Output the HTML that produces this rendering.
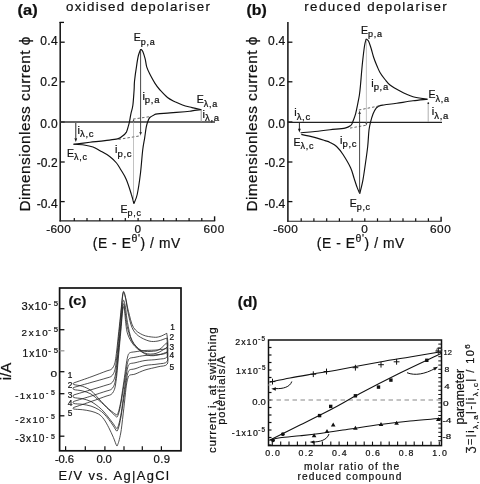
<!DOCTYPE html>
<html><head><meta charset="utf-8"><style>
html,body{margin:0;padding:0;background:#fff;}
svg{display:block;}
text{font-family:"Liberation Sans", Arial, Helvetica, sans-serif;stroke:#111;stroke-width:0.22px;}
</style></head><body>
<svg width="480" height="484" viewBox="0 0 480 484">
<rect width="480" height="484" fill="#fff"/>
<text x="17.5" y="14.6" font-size="14.50" text-anchor="start" font-weight="bold" fill="#111" textLength="20.2" lengthAdjust="spacingAndGlyphs">(a)</text>
<text x="66.0" y="11.0" font-size="13.30" text-anchor="start" font-weight="normal" fill="#111" textLength="144.0" lengthAdjust="spacing">oxidised depolariser</text>
<line x1="60.2" y1="22.0" x2="60.2" y2="221.4" stroke="#111" stroke-width="1.50" />
<line x1="59.5" y1="22.4" x2="64.0" y2="22.4" stroke="#111" stroke-width="1.30" />
<line x1="59.5" y1="220.9" x2="215.2" y2="220.9" stroke="#222" stroke-width="1.10" />
<line x1="60.2" y1="42.2" x2="64.7" y2="42.2" stroke="#111" stroke-width="1.30" />
<line x1="60.2" y1="81.8" x2="64.7" y2="81.8" stroke="#111" stroke-width="1.30" />
<line x1="60.2" y1="122.0" x2="64.7" y2="122.0" stroke="#111" stroke-width="1.30" />
<line x1="60.2" y1="162.0" x2="64.7" y2="162.0" stroke="#111" stroke-width="1.30" />
<line x1="60.2" y1="201.6" x2="64.7" y2="201.6" stroke="#111" stroke-width="1.30" />
<text x="57.6" y="45.2" font-size="12.00" text-anchor="end" font-weight="normal" fill="#111" textLength="17.3" lengthAdjust="spacing">0.4</text>
<text x="57.6" y="85.8" font-size="12.00" text-anchor="end" font-weight="normal" fill="#111" textLength="17.3" lengthAdjust="spacing">0.2</text>
<text x="57.6" y="127.9" font-size="12.00" text-anchor="end" font-weight="normal" fill="#111" textLength="17.3" lengthAdjust="spacing">0.0</text>
<text x="57.6" y="167.0" font-size="12.00" text-anchor="end" font-weight="normal" fill="#111" textLength="20.8" lengthAdjust="spacing">-0.2</text>
<text x="57.6" y="207.5" font-size="12.00" text-anchor="end" font-weight="normal" fill="#111" textLength="20.8" lengthAdjust="spacing">-0.4</text>
<line x1="74.3" y1="220.9" x2="74.3" y2="217.9" stroke="#111" stroke-width="1.20" />
<line x1="87.0" y1="220.9" x2="87.0" y2="217.9" stroke="#111" stroke-width="1.20" />
<line x1="99.8" y1="220.9" x2="99.8" y2="217.9" stroke="#111" stroke-width="1.20" />
<line x1="112.5" y1="220.9" x2="112.5" y2="217.9" stroke="#111" stroke-width="1.20" />
<line x1="125.3" y1="220.9" x2="125.3" y2="217.9" stroke="#111" stroke-width="1.20" />
<line x1="138.1" y1="220.9" x2="138.1" y2="217.9" stroke="#111" stroke-width="1.20" />
<line x1="150.8" y1="220.9" x2="150.8" y2="217.9" stroke="#111" stroke-width="1.20" />
<line x1="163.6" y1="220.9" x2="163.6" y2="217.9" stroke="#111" stroke-width="1.20" />
<line x1="176.3" y1="220.9" x2="176.3" y2="217.9" stroke="#111" stroke-width="1.20" />
<line x1="189.1" y1="220.9" x2="189.1" y2="217.9" stroke="#111" stroke-width="1.20" />
<line x1="201.8" y1="220.9" x2="201.8" y2="217.9" stroke="#111" stroke-width="1.20" />
<line x1="214.6" y1="220.9" x2="214.6" y2="216.3" stroke="#111" stroke-width="1.40" />
<text x="58.5" y="233.0" font-size="11.80" text-anchor="middle" font-weight="normal" fill="#111" textLength="24.5" lengthAdjust="spacing">-600</text>
<text x="137.8" y="233.0" font-size="11.80" text-anchor="middle" font-weight="normal" fill="#111" >0</text>
<text x="213.9" y="233.0" font-size="11.80" text-anchor="middle" font-weight="normal" fill="#111" textLength="20.8" lengthAdjust="spacing">600</text>
<text x="92.7" y="248.3" font-size="13.80" text-anchor="start" font-weight="normal" fill="#111" textLength="87.5" lengthAdjust="spacing">(E - E<tspan font-size="10.5" dy="-6.5">&#952;'</tspan><tspan dy="6.5">) / mV</tspan></text>
<text x="30.4" y="211.6" font-size="15.40" text-anchor="start" font-weight="normal" fill="#111" transform="rotate(-90 30.4 211.6)" textLength="175" lengthAdjust="spacing">Dimensionless current &#981;</text>
<text x="246.5" y="14.6" font-size="14.50" text-anchor="start" font-weight="bold" fill="#111" textLength="20.2" lengthAdjust="spacingAndGlyphs">(b)</text>
<text x="304.3" y="11.0" font-size="13.30" text-anchor="start" font-weight="normal" fill="#111" textLength="142.5" lengthAdjust="spacing">reduced depolariser</text>
<line x1="287.9" y1="22.0" x2="287.9" y2="221.8" stroke="#111" stroke-width="1.50" />
<line x1="287.2" y1="221.3" x2="441.7" y2="221.3" stroke="#222" stroke-width="1.10" />
<line x1="287.9" y1="42.2" x2="292.4" y2="42.2" stroke="#111" stroke-width="1.30" />
<line x1="287.9" y1="81.8" x2="292.4" y2="81.8" stroke="#111" stroke-width="1.30" />
<line x1="287.9" y1="122.0" x2="292.4" y2="122.0" stroke="#111" stroke-width="1.30" />
<line x1="287.9" y1="162.0" x2="292.4" y2="162.0" stroke="#111" stroke-width="1.30" />
<line x1="287.9" y1="201.6" x2="292.4" y2="201.6" stroke="#111" stroke-width="1.30" />
<text x="285.3" y="45.2" font-size="12.00" text-anchor="end" font-weight="normal" fill="#111" textLength="17.3" lengthAdjust="spacing">0.4</text>
<text x="285.3" y="85.8" font-size="12.00" text-anchor="end" font-weight="normal" fill="#111" textLength="17.3" lengthAdjust="spacing">0.2</text>
<text x="285.3" y="127.9" font-size="12.00" text-anchor="end" font-weight="normal" fill="#111" textLength="17.3" lengthAdjust="spacing">0.0</text>
<text x="285.3" y="167.0" font-size="12.00" text-anchor="end" font-weight="normal" fill="#111" textLength="20.8" lengthAdjust="spacing">-0.2</text>
<text x="285.3" y="207.5" font-size="12.00" text-anchor="end" font-weight="normal" fill="#111" textLength="20.8" lengthAdjust="spacing">-0.4</text>
<line x1="301.2" y1="221.3" x2="301.2" y2="218.3" stroke="#111" stroke-width="1.20" />
<line x1="313.9" y1="221.3" x2="313.9" y2="218.3" stroke="#111" stroke-width="1.20" />
<line x1="326.7" y1="221.3" x2="326.7" y2="218.3" stroke="#111" stroke-width="1.20" />
<line x1="339.4" y1="221.3" x2="339.4" y2="218.3" stroke="#111" stroke-width="1.20" />
<line x1="352.1" y1="221.3" x2="352.1" y2="218.3" stroke="#111" stroke-width="1.20" />
<line x1="364.8" y1="221.3" x2="364.8" y2="218.3" stroke="#111" stroke-width="1.20" />
<line x1="377.5" y1="221.3" x2="377.5" y2="218.3" stroke="#111" stroke-width="1.20" />
<line x1="390.3" y1="221.3" x2="390.3" y2="218.3" stroke="#111" stroke-width="1.20" />
<line x1="403.0" y1="221.3" x2="403.0" y2="218.3" stroke="#111" stroke-width="1.20" />
<line x1="415.7" y1="221.3" x2="415.7" y2="218.3" stroke="#111" stroke-width="1.20" />
<line x1="428.4" y1="221.3" x2="428.4" y2="218.3" stroke="#111" stroke-width="1.20" />
<line x1="441.1" y1="221.3" x2="441.1" y2="216.7" stroke="#111" stroke-width="1.40" />
<text x="285.5" y="233.0" font-size="11.80" text-anchor="middle" font-weight="normal" fill="#111" textLength="24.5" lengthAdjust="spacing">-600</text>
<text x="364.5" y="233.0" font-size="11.80" text-anchor="middle" font-weight="normal" fill="#111" >0</text>
<text x="440.4" y="233.0" font-size="11.80" text-anchor="middle" font-weight="normal" fill="#111" textLength="20.8" lengthAdjust="spacing">600</text>
<text x="316.8" y="248.3" font-size="13.80" text-anchor="start" font-weight="normal" fill="#111" textLength="87.5" lengthAdjust="spacing">(E - E<tspan font-size="10.5" dy="-6.5">&#952;'</tspan><tspan dy="6.5">) / mV</tspan></text>
<text x="256.7" y="211.6" font-size="15.40" text-anchor="start" font-weight="normal" fill="#111" transform="rotate(-90 256.7 211.6)" textLength="175" lengthAdjust="spacing">Dimensionless current &#981;</text>
<line x1="60.0" y1="122.0" x2="215.0" y2="122.0" stroke="#333" stroke-width="1.40" />
<line x1="287.8" y1="122.3" x2="442.0" y2="122.3" stroke="#222" stroke-width="1.30" />
<path d="M73.5,144.2 C76.2,143.9 84.8,142.9 90.0,142.3 C95.2,141.7 100.4,141.2 105.0,140.6 C109.6,140.0 114.6,139.6 117.5,138.9 C120.4,138.2 120.7,137.4 122.2,136.3 C123.7,135.2 125.4,133.8 126.4,132.1 C127.4,130.3 127.9,127.5 128.4,125.8 C128.9,124.1 129.1,123.8 129.5,121.7 C129.9,119.6 130.4,116.1 131.0,113.3 C131.6,110.5 132.4,108.9 132.9,105.0 C133.4,101.1 133.8,94.0 134.1,90.0 C134.4,86.0 134.1,85.3 134.5,81.3 C134.9,77.3 135.9,70.1 136.6,65.8 C137.2,61.5 137.7,58.3 138.4,55.5 C139.1,52.7 140.3,50.2 140.7,49.1" fill="none" stroke="#111" stroke-width="1.15" />
<path d="M140.7,49.1 C141.0,49.5 142.1,49.8 142.8,51.4 C143.5,53.0 144.4,56.0 145.1,58.6 C145.8,61.2 145.9,64.3 146.7,66.9 C147.5,69.5 148.4,71.3 149.8,74.1 C151.2,76.8 153.3,80.8 155.0,83.4 C156.7,86.1 157.9,87.7 160.0,90.0 C162.1,92.3 165.0,95.5 167.5,97.5 C170.0,99.5 172.5,100.5 175.0,101.8 C177.5,103.0 179.7,104.0 182.5,105.0 C185.3,106.0 188.9,106.8 192.0,107.6 C195.1,108.4 199.8,109.3 201.3,109.6" fill="none" stroke="#111" stroke-width="1.15" />
<path d="M201.3,109.6 C199.8,109.8 194.7,110.6 192.0,110.9 C189.3,111.2 188.7,111.4 185.0,111.7 C181.3,112.0 174.6,112.5 170.0,112.9 C165.4,113.3 160.2,113.6 157.5,113.9 C154.8,114.2 155.3,114.3 154.0,114.9 C152.7,115.5 150.9,116.4 149.8,117.5 C148.8,118.6 148.3,120.0 147.7,121.7 C147.1,123.4 146.6,125.1 146.1,127.9 C145.6,130.7 145.2,134.6 144.6,138.3 C144.0,142.0 143.4,144.2 142.7,150.0 C142.0,155.8 141.4,165.6 140.5,173.0 C139.6,180.4 138.3,189.4 137.2,194.5 C136.1,199.6 134.4,202.1 133.9,203.6" fill="none" stroke="#111" stroke-width="1.15" />
<path d="M133.9,203.6 C133.5,202.1 132.7,198.5 131.4,194.5 C130.2,190.5 128.1,183.8 126.4,179.7 C124.7,175.6 122.7,172.8 121.0,170.0 C119.3,167.2 118.3,165.2 116.5,163.0 C114.7,160.8 112.8,158.8 110.0,156.7 C107.2,154.6 102.8,152.3 100.0,150.7 C97.2,149.1 95.7,147.9 93.0,147.0 C90.3,146.1 87.2,145.5 84.0,145.0 C80.8,144.5 75.2,144.3 73.5,144.2" fill="none" stroke="#111" stroke-width="1.15" />
<line x1="118.5" y1="139.4" x2="140.9" y2="135.7" stroke="#555" stroke-width="0.90" stroke-dasharray="2.5,2"/>
<line x1="133.1" y1="119.1" x2="150.8" y2="116.5" stroke="#555" stroke-width="0.90" stroke-dasharray="2.5,2"/>
<line x1="140.6" y1="50.0" x2="140.6" y2="134.0" stroke="#333" stroke-width="0.90" />
<polygon points="140.6,135.6 139.3,132.1 141.9,132.1" fill="#333"/>
<line x1="133.5" y1="201.0" x2="133.5" y2="121.0" stroke="#999" stroke-width="0.60" />
<polygon points="133.5,118.8 134.5,121.4 132.5,121.4" fill="#444"/>
<line x1="201.2" y1="110.0" x2="201.2" y2="122.0" stroke="#888" stroke-width="0.90" />
<line x1="75.8" y1="123.0" x2="75.8" y2="138.0" stroke="#111" stroke-width="0.90" />
<polygon points="75.8,142.0 74.4,138.3 77.2,138.3" fill="#111"/>
<text x="133.8" y="41.3" font-size="10.50" text-anchor="start" font-weight="normal" fill="#111" >E<tspan font-size="9.00" dy="3.5" letter-spacing="0.7">p,a</tspan></text>
<text x="142.4" y="100.2" font-size="11.00" text-anchor="start" font-weight="normal" fill="#111" >i<tspan font-size="9.50" dy="3.2" letter-spacing="0.7">p,a</tspan></text>
<text x="196.8" y="103.2" font-size="10.50" text-anchor="start" font-weight="normal" fill="#111" >E<tspan font-size="9.00" dy="3.5" letter-spacing="0.7">&#955;,a</tspan></text>
<text x="202.6" y="117.6" font-size="11.00" text-anchor="start" font-weight="normal" fill="#111" >i<tspan font-size="9.50" dy="3.2" letter-spacing="0.7">&#955;,a</tspan></text>
<text x="77.5" y="134.0" font-size="11.00" text-anchor="start" font-weight="normal" fill="#111" >i<tspan font-size="9.50" dy="3.2" letter-spacing="0.7">&#955;,c</tspan></text>
<text x="67.0" y="156.7" font-size="10.50" text-anchor="start" font-weight="normal" fill="#111" >E<tspan font-size="9.00" dy="3.5" letter-spacing="0.7">&#955;,c</tspan></text>
<text x="115.1" y="153.4" font-size="11.00" text-anchor="start" font-weight="normal" fill="#111" >i<tspan font-size="9.50" dy="3.2" letter-spacing="0.7">p,c</tspan></text>
<text x="120.6" y="212.8" font-size="10.50" text-anchor="start" font-weight="normal" fill="#111" >E<tspan font-size="9.00" dy="3.5" letter-spacing="0.7">p,c</tspan></text>
<path d="M300.6,132.7 C303.0,132.5 310.1,132.0 315.0,131.5 C319.9,131.0 325.0,130.4 330.0,129.8 C335.0,129.2 341.6,128.8 345.0,128.1 C348.4,127.4 349.4,126.5 350.6,125.6 C351.9,124.7 351.7,124.5 352.5,122.5 C353.3,120.5 354.8,116.7 355.6,113.8 C356.4,110.9 356.9,108.1 357.5,105.0 C358.1,101.9 358.9,98.3 359.4,95.0 C359.9,91.7 360.0,90.4 360.5,85.0 C361.0,79.6 361.8,69.0 362.5,62.5 C363.2,56.0 363.9,50.0 364.5,46.0 C365.1,42.0 365.9,40.0 366.2,38.8" fill="none" stroke="#111" stroke-width="1.15" />
<path d="M366.2,38.8 C366.6,39.2 367.7,39.5 368.5,41.0 C369.3,42.5 370.1,45.2 371.0,48.0 C371.9,50.8 372.7,54.5 373.7,57.5 C374.7,60.5 375.9,63.5 377.0,66.0 C378.1,68.5 378.7,70.2 380.0,72.5 C381.3,74.8 383.3,77.4 385.0,79.5 C386.7,81.6 387.5,83.1 390.0,85.0 C392.5,86.9 396.2,89.0 400.0,91.0 C403.8,93.0 408.4,95.3 413.0,96.7 C417.6,98.1 425.1,98.8 427.5,99.2" fill="none" stroke="#111" stroke-width="1.15" />
<path d="M427.5,99.2 C425.1,99.5 418.1,100.1 413.0,100.8 C407.9,101.5 401.4,102.6 396.7,103.3 C392.0,104.0 387.8,104.4 385.0,104.8 C382.2,105.2 381.5,105.0 380.0,105.6 C378.5,106.1 377.3,106.7 376.2,108.1 C375.1,109.5 374.0,111.5 373.1,113.8 C372.2,116.1 371.3,119.2 370.6,121.9 C369.9,124.6 369.5,125.9 369.0,130.0 C368.5,134.1 368.3,141.0 367.7,146.5 C367.1,152.0 366.3,157.5 365.5,163.0 C364.7,168.5 363.9,174.5 363.0,179.6 C362.1,184.7 360.3,191.3 359.8,193.6" fill="none" stroke="#111" stroke-width="1.15" />
<path d="M359.8,193.6 C359.4,192.7 358.3,190.5 357.3,187.9 C356.3,185.3 355.1,181.3 354.0,178.0 C352.9,174.7 352.5,171.9 350.7,168.0 C348.9,164.1 345.5,158.4 343.2,154.8 C340.9,151.2 338.8,148.6 336.6,146.5 C334.4,144.4 331.9,143.4 330.0,142.4 C328.1,141.4 327.9,141.5 325.0,140.6 C322.1,139.7 316.4,137.9 312.5,136.9 C308.6,135.9 303.2,134.8 301.3,134.4" fill="none" stroke="#111" stroke-width="1.15" />
<line x1="358.8" y1="110.0" x2="378.8" y2="106.0" stroke="#555" stroke-width="0.90" stroke-dasharray="2.5,2"/>
<line x1="350.0" y1="128.1" x2="367.5" y2="125.0" stroke="#555" stroke-width="0.90" stroke-dasharray="2.5,2"/>
<line x1="359.6" y1="193.0" x2="359.6" y2="113.0" stroke="#333" stroke-width="0.90" />
<polygon points="359.6,110.5 360.9,114.0 358.3,114.0" fill="#333"/>
<line x1="366.4" y1="40.0" x2="366.4" y2="123.0" stroke="#999" stroke-width="0.60" />
<polygon points="366.4,125.6 365.4,123.0 367.4,123.0" fill="#444"/>
<line x1="428.2" y1="104.0" x2="428.2" y2="122.0" stroke="#999" stroke-width="0.80" />
<circle cx="428.3" cy="103.2" r="0.9" fill="#222"/>
<line x1="299.4" y1="123.0" x2="299.4" y2="129.0" stroke="#111" stroke-width="0.90" />
<polygon points="299.4,132.4 298.0,128.7 300.8,128.7" fill="#111"/>
<text x="361.0" y="33.8" font-size="10.50" text-anchor="start" font-weight="normal" fill="#111" >E<tspan font-size="9.00" dy="3.5" letter-spacing="0.7">p,a</tspan></text>
<text x="371.2" y="86.8" font-size="11.00" text-anchor="start" font-weight="normal" fill="#111" >i<tspan font-size="9.50" dy="3.2" letter-spacing="0.7">p,a</tspan></text>
<text x="428.5" y="98.3" font-size="10.50" text-anchor="start" font-weight="normal" fill="#111" >E<tspan font-size="9.00" dy="3.5" letter-spacing="0.7">&#955;,a</tspan></text>
<text x="431.8" y="115.4" font-size="11.00" text-anchor="start" font-weight="normal" fill="#111" >i<tspan font-size="9.50" dy="3.2" letter-spacing="0.7">&#955;,a</tspan></text>
<text x="294.2" y="116.4" font-size="11.00" text-anchor="start" font-weight="normal" fill="#111" >i<tspan font-size="9.50" dy="3.2" letter-spacing="0.7">&#955;,c</tspan></text>
<text x="293.6" y="145.6" font-size="10.50" text-anchor="start" font-weight="normal" fill="#111" >E<tspan font-size="9.00" dy="3.5" letter-spacing="0.7">&#955;,c</tspan></text>
<text x="340.0" y="144.2" font-size="11.00" text-anchor="start" font-weight="normal" fill="#111" >i<tspan font-size="9.50" dy="3.2" letter-spacing="0.7">p,c</tspan></text>
<text x="349.7" y="206.9" font-size="10.50" text-anchor="start" font-weight="normal" fill="#111" >E<tspan font-size="9.00" dy="3.5" letter-spacing="0.7">p,c</tspan></text>
<rect x="59.6" y="288.0" width="121.4" height="162.8" fill="none" stroke="#111" stroke-width="1.7"/>
<line x1="59.6" y1="308.7" x2="64.4" y2="308.7" stroke="#111" stroke-width="1.30" />
<line x1="59.6" y1="329.7" x2="64.4" y2="329.7" stroke="#111" stroke-width="1.30" />
<line x1="59.6" y1="350.8" x2="64.4" y2="350.8" stroke="#999" stroke-width="1.30" />
<line x1="59.6" y1="371.7" x2="64.4" y2="371.7" stroke="#111" stroke-width="1.30" />
<line x1="59.6" y1="393.7" x2="64.4" y2="393.7" stroke="#111" stroke-width="1.30" />
<line x1="59.6" y1="415.8" x2="64.4" y2="415.8" stroke="#111" stroke-width="1.30" />
<line x1="59.6" y1="436.2" x2="64.4" y2="436.2" stroke="#111" stroke-width="1.30" />
<text x="21.5" y="309.9" font-size="11.2" fill="#111" textLength="26.1" lengthAdjust="spacing">3x10</text>
<text x="48.3" y="305.9" font-size="7.8" fill="#111" textLength="9.7" lengthAdjust="spacing">-5</text>
<text x="21.5" y="336.0" font-size="9.8" fill="#111" textLength="26.3" lengthAdjust="spacing">2x10</text>
<text x="48.3" y="332.2" font-size="7.8" fill="#111" textLength="9.7" lengthAdjust="spacing">-5</text>
<text x="22.6" y="356.7" font-size="10.2" fill="#111" textLength="24.9" lengthAdjust="spacing">1x10</text>
<text x="48.3" y="353.0" font-size="7.8" fill="#111" textLength="9.7" lengthAdjust="spacing">-5</text>
<text x="15.2" y="398.6" font-size="9.6" fill="#111" textLength="29.2" lengthAdjust="spacing">-1x10</text>
<text x="46.0" y="394.9" font-size="7.0" fill="#111" textLength="8.8" lengthAdjust="spacing">-5</text>
<text x="15.2" y="422.8" font-size="9.6" fill="#111" textLength="29.2" lengthAdjust="spacing">-2x10</text>
<text x="46.0" y="419.1" font-size="7.0" fill="#111" textLength="8.8" lengthAdjust="spacing">-5</text>
<text x="15.2" y="442.0" font-size="10.2" fill="#111" textLength="29.2" lengthAdjust="spacing">-3x10</text>
<text x="46.0" y="438.9" font-size="7.0" fill="#111" textLength="8.8" lengthAdjust="spacing">-5</text>
<text x="50.5" y="377.2" font-size="9.60" text-anchor="start" font-weight="normal" fill="#111" textLength="6.6" lengthAdjust="spacingAndGlyphs">0</text>
<line x1="65.6" y1="450.8" x2="65.6" y2="446.3" stroke="#111" stroke-width="1.20" />
<line x1="85.3" y1="450.8" x2="85.3" y2="446.3" stroke="#111" stroke-width="1.20" />
<line x1="104.9" y1="450.8" x2="104.9" y2="446.3" stroke="#111" stroke-width="1.20" />
<line x1="124.0" y1="450.8" x2="124.0" y2="446.3" stroke="#111" stroke-width="1.20" />
<line x1="142.3" y1="450.8" x2="142.3" y2="446.3" stroke="#111" stroke-width="1.20" />
<line x1="161.4" y1="450.8" x2="161.4" y2="446.3" stroke="#111" stroke-width="1.20" />
<text x="55.0" y="462.9" font-size="11.30" text-anchor="start" font-weight="normal" fill="#111" textLength="19.0" lengthAdjust="spacing">-0.6</text>
<text x="96.5" y="462.9" font-size="11.30" text-anchor="start" font-weight="normal" fill="#111" textLength="15.3" lengthAdjust="spacing">0.0</text>
<text x="153.6" y="462.9" font-size="11.30" text-anchor="start" font-weight="normal" fill="#111" textLength="16.4" lengthAdjust="spacing">0.9</text>
<text x="58.4" y="480.0" font-size="12.90" text-anchor="start" font-weight="normal" fill="#111" textLength="110.5" lengthAdjust="spacing" stroke="#111" stroke-width="0.25">E/V vs. Ag|AgCl</text>
<text x="10.8" y="380.3" font-size="14.20" text-anchor="start" font-weight="normal" fill="#111" transform="rotate(-90 10.8 380.3)" textLength="17.6" lengthAdjust="spacingAndGlyphs">i/A</text>
<text x="68.5" y="304.8" font-size="13.60" text-anchor="start" font-weight="bold" fill="#111" textLength="17.8" lengthAdjust="spacingAndGlyphs">(c)</text>
<text x="170.2" y="330.0" font-size="8.30" text-anchor="start" font-weight="normal" fill="#111" >1</text>
<text x="169.5" y="339.8" font-size="8.30" text-anchor="start" font-weight="normal" fill="#111" >2</text>
<text x="169.5" y="350.3" font-size="8.30" text-anchor="start" font-weight="normal" fill="#111" >3</text>
<text x="169.5" y="358.4" font-size="8.30" text-anchor="start" font-weight="normal" fill="#111" >4</text>
<text x="169.5" y="370.2" font-size="8.30" text-anchor="start" font-weight="normal" fill="#111" >5</text>
<text x="67.8" y="377.5" font-size="8.30" text-anchor="start" font-weight="normal" fill="#111" >1</text>
<text x="67.8" y="388.0" font-size="8.30" text-anchor="start" font-weight="normal" fill="#111" >2</text>
<text x="67.8" y="398.0" font-size="8.30" text-anchor="start" font-weight="normal" fill="#111" >3</text>
<text x="67.8" y="405.6" font-size="8.30" text-anchor="start" font-weight="normal" fill="#111" >4</text>
<text x="67.8" y="415.6" font-size="8.30" text-anchor="start" font-weight="normal" fill="#111" >5</text>
<path d="M73.5,383.0 C76.6,381.9 86.6,378.5 92.0,376.5 C97.4,374.5 102.8,372.4 106.0,371.2 C109.2,370.0 109.8,370.3 111.0,369.5 C112.2,368.7 112.8,367.9 113.5,366.5 C114.2,365.1 114.8,363.8 115.3,361.0 C115.8,358.2 116.2,355.0 116.8,350.0 C117.4,345.0 118.1,337.5 118.8,331.3 C119.5,325.0 120.2,318.2 120.8,312.6 C121.4,306.9 121.9,300.9 122.3,297.4 C122.7,293.8 123.0,292.1 123.4,291.5 C123.8,290.9 124.2,292.2 124.6,293.5 C125.0,294.8 125.3,296.5 126.0,299.5 C126.7,302.5 127.2,306.8 128.5,311.5 C129.8,316.2 131.1,323.6 133.5,327.5 C135.9,331.4 139.4,333.3 142.8,334.9 C146.2,336.5 150.8,336.9 153.7,337.2 C156.6,337.5 157.8,337.1 160.0,336.5 C162.2,335.9 165.7,333.8 166.8,333.3" fill="none" stroke="#222" stroke-width="0.80" />
<path d="M166.8,333.3 C166.9,335.6 168.8,344.2 167.3,347.0 C165.8,349.8 161.7,349.2 158.0,349.8 C154.3,350.4 148.8,350.2 145.0,350.5 C141.2,350.8 137.6,351.4 135.0,351.8 C132.4,352.2 130.7,352.1 129.5,353.0 C128.3,353.9 128.2,354.8 127.6,357.0 C127.0,359.2 126.6,361.9 126.0,366.0 C125.4,370.1 124.6,376.4 123.8,381.9 C123.0,387.4 122.0,394.3 121.3,398.8 C120.5,403.3 119.9,406.3 119.3,408.8 C118.7,411.3 118.2,412.6 117.8,413.6 C117.3,414.6 117.3,415.0 116.6,414.8 C115.9,414.6 114.7,413.6 113.4,412.7 C112.1,411.7 110.4,410.5 108.8,409.0 C107.2,407.6 105.6,405.9 103.9,404.2 C102.2,402.5 100.9,401.0 98.7,398.7 C96.6,396.5 93.7,392.6 91.0,390.6 C88.3,388.5 85.3,387.3 82.4,386.3 C79.5,385.3 75.3,385.1 73.8,384.5 C72.3,383.9 73.5,383.2 73.5,383.0" fill="none" stroke="#222" stroke-width="0.80" />
<path d="M73.5,387.5 C76.6,386.6 86.6,383.8 92.0,382.2 C97.4,380.7 102.8,379.2 106.0,378.2 C109.2,377.2 109.8,377.3 111.0,376.5 C112.2,375.7 112.8,374.9 113.5,373.5 C114.2,372.1 114.8,370.8 115.3,368.0 C115.8,365.2 116.2,362.3 116.8,357.0 C117.4,351.7 118.1,343.2 118.8,336.4 C119.5,329.5 120.2,322.0 120.8,315.7 C121.4,309.5 121.9,302.8 122.3,298.9 C122.7,295.1 123.0,293.2 123.4,292.5 C123.8,291.8 124.2,293.2 124.6,294.5 C125.0,295.8 125.4,297.5 126.0,300.5 C126.6,303.5 127.0,308.0 128.0,312.5 C129.0,317.0 130.3,323.6 132.0,327.5 C133.7,331.4 135.4,333.4 138.2,335.7 C141.0,337.9 145.7,340.1 149.0,341.0 C152.3,341.9 155.0,341.5 158.0,341.0 C161.0,340.5 165.3,338.5 166.8,338.0" fill="none" stroke="#222" stroke-width="0.80" />
<path d="M166.8,338.0 C166.9,340.3 168.8,349.0 167.3,351.8 C165.8,354.6 161.7,354.0 158.0,354.6 C154.3,355.2 148.8,355.1 145.0,355.5 C141.2,355.9 137.6,356.8 135.0,357.3 C132.4,357.8 130.7,357.6 129.5,358.5 C128.3,359.4 128.2,360.3 127.6,362.5 C127.0,364.7 126.6,367.6 126.0,371.5 C125.4,375.4 124.6,380.8 123.8,385.8 C123.0,390.7 122.0,396.8 121.3,401.0 C120.5,405.2 119.9,408.5 119.3,411.0 C118.7,413.5 118.2,414.8 117.8,415.8 C117.3,416.8 117.3,417.3 116.6,417.0 C115.9,416.7 114.7,415.3 113.4,414.0 C112.1,412.8 110.4,411.2 108.8,409.7 C107.2,408.2 105.6,406.4 103.9,404.8 C102.2,403.2 100.9,402.0 98.7,400.2 C96.6,398.4 93.7,395.6 91.0,394.0 C88.3,392.5 85.3,391.6 82.4,390.9 C79.5,390.1 75.3,390.1 73.8,389.5 C72.3,388.9 73.5,387.8 73.5,387.5" fill="none" stroke="#222" stroke-width="0.80" />
<path d="M73.5,395.0 C76.6,394.1 86.6,391.1 92.0,389.5 C97.4,387.9 102.8,386.2 106.0,385.2 C109.2,384.2 109.8,384.3 111.0,383.5 C112.2,382.7 112.8,381.9 113.5,380.5 C114.2,379.1 114.8,377.8 115.3,375.0 C115.8,372.2 116.2,369.2 116.8,364.0 C117.4,358.8 118.1,350.5 118.8,343.7 C119.5,336.9 120.2,329.5 120.8,323.4 C121.4,317.2 121.9,310.7 122.3,306.9 C122.7,303.0 123.0,301.2 123.4,300.5 C123.8,299.8 124.1,301.0 124.5,302.5 C124.9,304.0 125.3,306.2 125.8,309.5 C126.3,312.8 126.5,317.4 127.5,322.5 C128.5,327.6 129.7,335.7 132.0,340.3 C134.3,344.9 137.7,348.6 141.3,350.4 C144.9,352.2 150.6,351.4 153.7,351.2 C156.8,351.0 157.8,350.4 160.0,349.0 C162.2,347.6 165.7,343.7 166.8,342.6" fill="none" stroke="#222" stroke-width="0.80" />
<path d="M166.8,342.6 C166.9,344.9 168.8,353.7 167.3,356.5 C165.8,359.3 161.7,358.6 158.0,359.3 C154.3,360.0 148.8,359.9 145.0,360.5 C141.2,361.1 137.6,362.2 135.0,362.8 C132.4,363.4 130.7,363.1 129.5,364.0 C128.3,364.9 128.2,365.8 127.6,368.0 C127.0,370.2 126.6,372.6 126.0,377.0 C125.4,381.4 124.6,388.3 123.8,394.2 C123.0,400.1 122.0,407.7 121.3,412.4 C120.5,417.1 119.9,419.9 119.3,422.4 C118.7,424.9 118.2,426.2 117.8,427.2 C117.3,428.2 117.3,428.9 116.6,428.4 C115.9,427.9 114.7,425.7 113.4,423.9 C112.1,422.2 110.4,419.9 108.8,417.9 C107.2,415.9 105.6,413.7 103.9,411.9 C102.2,410.0 100.9,408.6 98.7,406.9 C96.6,405.2 93.7,402.9 91.0,401.5 C88.3,400.2 85.3,399.4 82.4,398.7 C79.5,398.1 75.3,398.1 73.8,397.5 C72.3,396.9 73.5,395.4 73.5,395.0" fill="none" stroke="#222" stroke-width="0.80" />
<path d="M73.5,401.5 C76.6,400.5 86.6,397.5 92.0,395.8 C97.4,394.0 102.8,392.2 106.0,391.2 C109.2,390.2 109.8,390.3 111.0,389.5 C112.2,388.7 112.8,387.9 113.5,386.5 C114.2,385.1 114.8,383.8 115.3,381.0 C115.8,378.2 116.2,375.4 116.8,370.0 C117.4,364.6 118.1,355.9 118.8,348.9 C119.5,341.8 120.2,334.1 120.8,327.8 C121.4,321.4 121.9,314.6 122.3,310.6 C122.7,306.6 123.0,304.8 123.4,304.0 C123.8,303.2 124.1,303.9 124.5,306.0 C124.8,308.1 125.2,312.8 125.8,316.6 C126.3,320.5 126.5,324.5 127.8,329.0 C129.0,333.5 130.7,339.7 133.5,343.6 C136.3,347.6 140.7,351.3 144.4,352.9 C148.2,354.6 152.3,354.2 156.0,353.4 C159.7,352.5 165.0,348.5 166.8,347.6" fill="none" stroke="#222" stroke-width="0.80" />
<path d="M166.8,347.5 C166.9,349.8 168.8,358.4 167.3,361.2 C165.8,363.9 161.7,363.3 158.0,364.0 C154.3,364.7 148.8,364.7 145.0,365.5 C141.2,366.3 137.6,368.1 135.0,368.8 C132.4,369.6 130.7,369.1 129.5,370.0 C128.3,370.9 128.2,371.8 127.6,374.0 C127.0,376.2 126.6,378.9 126.0,383.0 C125.4,387.1 124.6,393.2 123.8,398.5 C123.0,403.8 122.0,410.6 121.3,415.0 C120.5,419.4 119.9,422.5 119.3,425.0 C118.7,427.5 118.2,428.8 117.8,429.8 C117.3,430.8 117.3,431.6 116.6,431.0 C115.9,430.4 114.7,427.9 113.4,426.0 C112.1,424.1 110.4,421.6 108.8,419.6 C107.2,417.5 105.6,415.4 103.9,413.7 C102.2,412.1 100.9,410.9 98.7,409.6 C96.6,408.3 93.7,407.0 91.0,406.1 C88.3,405.2 85.3,404.8 82.4,404.3 C79.5,403.9 75.3,404.0 73.8,403.5 C72.3,403.0 73.5,401.8 73.5,401.5" fill="none" stroke="#222" stroke-width="0.80" />
<path d="M73.5,407.5 C76.6,406.5 86.6,403.1 92.0,401.2 C97.4,399.4 102.8,397.3 106.0,396.2 C109.2,395.1 109.8,395.3 111.0,394.5 C112.2,393.7 112.8,392.9 113.5,391.5 C114.2,390.1 114.8,388.8 115.3,386.0 C115.8,383.2 116.2,380.5 116.8,375.0 C117.4,369.5 118.1,360.5 118.8,353.2 C119.5,346.0 120.2,338.1 120.8,331.5 C121.4,324.9 121.9,317.9 122.3,313.8 C122.7,309.7 123.1,307.8 123.4,307.0 C123.8,306.2 124.0,306.3 124.4,309.0 C124.8,311.7 125.2,319.0 125.8,323.3 C126.3,327.6 126.5,331.1 128.0,335.0 C129.5,338.9 131.8,343.2 135.0,346.5 C138.2,349.8 143.6,353.6 147.5,355.0 C151.4,356.4 155.1,355.5 158.3,355.0 C161.5,354.5 165.4,352.5 166.8,352.0" fill="none" stroke="#222" stroke-width="0.80" />
<path d="M166.8,352.0 C166.9,354.0 168.8,361.5 167.3,364.0 C165.8,366.5 161.7,365.8 158.0,366.8 C154.3,367.8 148.8,368.8 145.0,370.0 C141.2,371.2 137.6,373.2 135.0,374.1 C132.4,375.0 130.7,374.4 129.5,375.3 C128.3,376.2 128.2,377.1 127.6,379.3 C127.0,381.5 126.6,383.4 126.0,388.3 C125.4,393.2 124.6,401.6 123.8,408.5 C123.0,415.3 122.0,424.4 121.3,429.6 C120.5,434.8 119.9,437.1 119.3,439.6 C118.7,442.1 118.2,443.4 117.8,444.4 C117.3,445.4 117.3,446.7 116.6,445.6 C115.9,444.5 114.7,440.5 113.4,437.5 C112.1,434.6 110.4,430.7 108.8,427.7 C107.2,424.6 105.6,421.5 103.9,419.2 C102.2,417.0 100.9,415.5 98.7,414.1 C96.6,412.8 93.7,411.9 91.0,411.2 C88.3,410.5 85.3,410.1 82.4,409.7 C79.5,409.4 75.3,409.4 73.8,409.0 C72.3,408.6 73.5,407.8 73.5,407.5" fill="none" stroke="#222" stroke-width="0.80" />
<rect x="268.5" y="340.0" width="173.0" height="105.6" fill="none" stroke="#111" stroke-width="1.5"/>
<line x1="268.5" y1="347.5" x2="271.5" y2="347.5" stroke="#111" stroke-width="1.20" />
<line x1="268.5" y1="355.0" x2="271.5" y2="355.0" stroke="#111" stroke-width="1.20" />
<line x1="268.5" y1="362.5" x2="271.5" y2="362.5" stroke="#111" stroke-width="1.20" />
<line x1="268.5" y1="370.0" x2="271.5" y2="370.0" stroke="#111" stroke-width="1.20" />
<line x1="268.5" y1="377.5" x2="271.5" y2="377.5" stroke="#111" stroke-width="1.20" />
<line x1="268.5" y1="385.0" x2="271.5" y2="385.0" stroke="#bbb" stroke-width="1.20" />
<line x1="268.5" y1="392.5" x2="271.5" y2="392.5" stroke="#111" stroke-width="1.20" />
<line x1="268.5" y1="400.0" x2="271.5" y2="400.0" stroke="#111" stroke-width="1.20" />
<line x1="268.5" y1="407.5" x2="271.5" y2="407.5" stroke="#111" stroke-width="1.20" />
<line x1="268.5" y1="415.0" x2="271.5" y2="415.0" stroke="#111" stroke-width="1.20" />
<line x1="268.5" y1="422.5" x2="271.5" y2="422.5" stroke="#111" stroke-width="1.20" />
<line x1="268.5" y1="430.0" x2="271.5" y2="430.0" stroke="#111" stroke-width="1.20" />
<line x1="268.5" y1="437.5" x2="271.5" y2="437.5" stroke="#111" stroke-width="1.20" />
<line x1="268.5" y1="445.0" x2="271.5" y2="445.0" stroke="#111" stroke-width="1.20" />
<line x1="441.5" y1="440.7" x2="438.3" y2="440.7" stroke="#111" stroke-width="1.00" />
<line x1="441.5" y1="436.5" x2="438.3" y2="436.5" stroke="#111" stroke-width="1.00" />
<line x1="441.5" y1="432.3" x2="438.3" y2="432.3" stroke="#111" stroke-width="1.00" />
<line x1="441.5" y1="428.1" x2="438.3" y2="428.1" stroke="#111" stroke-width="1.00" />
<line x1="441.5" y1="423.9" x2="438.3" y2="423.9" stroke="#111" stroke-width="1.00" />
<line x1="441.5" y1="419.7" x2="438.3" y2="419.7" stroke="#111" stroke-width="1.00" />
<line x1="441.5" y1="415.5" x2="438.3" y2="415.5" stroke="#111" stroke-width="1.00" />
<line x1="441.5" y1="411.3" x2="438.3" y2="411.3" stroke="#111" stroke-width="1.00" />
<line x1="441.5" y1="407.1" x2="438.3" y2="407.1" stroke="#111" stroke-width="1.00" />
<line x1="441.5" y1="402.9" x2="438.3" y2="402.9" stroke="#111" stroke-width="1.00" />
<line x1="441.5" y1="398.7" x2="438.3" y2="398.7" stroke="#111" stroke-width="1.00" />
<line x1="441.5" y1="394.5" x2="438.3" y2="394.5" stroke="#111" stroke-width="1.00" />
<line x1="441.5" y1="390.3" x2="438.3" y2="390.3" stroke="#111" stroke-width="1.00" />
<line x1="441.5" y1="386.1" x2="438.3" y2="386.1" stroke="#111" stroke-width="1.00" />
<line x1="441.5" y1="381.9" x2="438.3" y2="381.9" stroke="#111" stroke-width="1.00" />
<line x1="441.5" y1="377.7" x2="438.3" y2="377.7" stroke="#111" stroke-width="1.00" />
<line x1="441.5" y1="373.5" x2="438.3" y2="373.5" stroke="#111" stroke-width="1.00" />
<line x1="441.5" y1="369.3" x2="438.3" y2="369.3" stroke="#111" stroke-width="1.00" />
<line x1="441.5" y1="365.1" x2="438.3" y2="365.1" stroke="#111" stroke-width="1.00" />
<line x1="441.5" y1="360.9" x2="438.3" y2="360.9" stroke="#111" stroke-width="1.00" />
<line x1="441.5" y1="356.7" x2="438.3" y2="356.7" stroke="#111" stroke-width="1.00" />
<line x1="441.5" y1="352.5" x2="438.3" y2="352.5" stroke="#111" stroke-width="1.00" />
<line x1="441.5" y1="348.3" x2="438.3" y2="348.3" stroke="#111" stroke-width="1.00" />
<line x1="441.5" y1="344.1" x2="438.3" y2="344.1" stroke="#111" stroke-width="1.00" />
<line x1="272.3" y1="445.6" x2="272.3" y2="441.6" stroke="#111" stroke-width="1.10" />
<line x1="280.7" y1="445.6" x2="280.7" y2="441.6" stroke="#111" stroke-width="1.10" />
<line x1="289.0" y1="445.6" x2="289.0" y2="441.6" stroke="#111" stroke-width="1.10" />
<line x1="297.4" y1="445.6" x2="297.4" y2="441.6" stroke="#111" stroke-width="1.10" />
<line x1="305.7" y1="445.6" x2="305.7" y2="441.6" stroke="#111" stroke-width="1.10" />
<line x1="314.1" y1="445.6" x2="314.1" y2="441.6" stroke="#111" stroke-width="1.10" />
<line x1="322.4" y1="445.6" x2="322.4" y2="441.6" stroke="#111" stroke-width="1.10" />
<line x1="330.8" y1="445.6" x2="330.8" y2="441.6" stroke="#111" stroke-width="1.10" />
<line x1="339.1" y1="445.6" x2="339.1" y2="441.6" stroke="#111" stroke-width="1.10" />
<line x1="347.5" y1="445.6" x2="347.5" y2="441.6" stroke="#111" stroke-width="1.10" />
<line x1="355.8" y1="445.6" x2="355.8" y2="441.6" stroke="#111" stroke-width="1.10" />
<line x1="364.2" y1="445.6" x2="364.2" y2="441.6" stroke="#111" stroke-width="1.10" />
<line x1="372.5" y1="445.6" x2="372.5" y2="441.6" stroke="#111" stroke-width="1.10" />
<line x1="380.9" y1="445.6" x2="380.9" y2="441.6" stroke="#111" stroke-width="1.10" />
<line x1="389.2" y1="445.6" x2="389.2" y2="441.6" stroke="#111" stroke-width="1.10" />
<line x1="397.6" y1="445.6" x2="397.6" y2="441.6" stroke="#111" stroke-width="1.10" />
<line x1="405.9" y1="445.6" x2="405.9" y2="441.6" stroke="#111" stroke-width="1.10" />
<line x1="414.2" y1="445.6" x2="414.2" y2="441.6" stroke="#111" stroke-width="1.10" />
<line x1="422.6" y1="445.6" x2="422.6" y2="441.6" stroke="#111" stroke-width="1.10" />
<line x1="431.0" y1="445.6" x2="431.0" y2="441.6" stroke="#111" stroke-width="1.10" />
<line x1="439.3" y1="445.6" x2="439.3" y2="441.6" stroke="#111" stroke-width="1.10" />
<line x1="268.5" y1="400.0" x2="441.5" y2="400.0" stroke="#888" stroke-width="1.20" stroke-dasharray="4.5,3.5"/>
<text x="235.3" y="345.0" font-size="8.8" fill="#111" textLength="22.0" lengthAdjust="spacing">2x10</text>
<text x="258.3" y="340.6" font-size="6.3" fill="#111" textLength="6.8" lengthAdjust="spacing">-5</text>
<text x="235.9" y="373.6" font-size="8.8" fill="#111" textLength="22.0" lengthAdjust="spacing">1x10</text>
<text x="258.6" y="369.8" font-size="6.3" fill="#111" textLength="6.8" lengthAdjust="spacing">-5</text>
<text x="231.7" y="436.2" font-size="8.8" fill="#111" textLength="26.2" lengthAdjust="spacing">-1x10</text>
<text x="258.3" y="432.0" font-size="6.3" fill="#111" textLength="6.8" lengthAdjust="spacing">-5</text>
<text x="265.9" y="404.6" font-size="9.50" text-anchor="end" font-weight="normal" fill="#111" textLength="13.7" lengthAdjust="spacing">0.0</text>
<text x="443.5" y="355.4" font-size="8.00" text-anchor="start" font-weight="normal" fill="#111" textLength="8.3" lengthAdjust="spacingAndGlyphs">12</text>
<text x="444.5" y="372.2" font-size="8.00" text-anchor="start" font-weight="normal" fill="#111" textLength="4.8" lengthAdjust="spacingAndGlyphs">8</text>
<text x="444.3" y="389.0" font-size="8.00" text-anchor="start" font-weight="normal" fill="#111" textLength="5.4" lengthAdjust="spacingAndGlyphs">4</text>
<text x="443.0" y="405.8" font-size="8.00" text-anchor="start" font-weight="normal" fill="#111" textLength="5.6" lengthAdjust="spacingAndGlyphs">0</text>
<text x="442.4" y="422.6" font-size="8.00" text-anchor="start" font-weight="normal" fill="#111" textLength="9.0" lengthAdjust="spacingAndGlyphs">-4</text>
<text x="442.6" y="439.4" font-size="8.00" text-anchor="start" font-weight="normal" fill="#111" textLength="8.6" lengthAdjust="spacingAndGlyphs">-8</text>
<text x="272.5" y="455.9" font-size="8.80" text-anchor="middle" font-weight="normal" fill="#111" textLength="14.6" lengthAdjust="spacing">0.0</text>
<text x="305.9" y="455.9" font-size="8.80" text-anchor="middle" font-weight="normal" fill="#111" textLength="14.6" lengthAdjust="spacing">0.2</text>
<text x="339.3" y="455.9" font-size="8.80" text-anchor="middle" font-weight="normal" fill="#111" textLength="14.6" lengthAdjust="spacing">0.4</text>
<text x="372.7" y="455.9" font-size="8.80" text-anchor="middle" font-weight="normal" fill="#111" textLength="14.6" lengthAdjust="spacing">0.6</text>
<text x="406.1" y="455.9" font-size="8.80" text-anchor="middle" font-weight="normal" fill="#111" textLength="14.6" lengthAdjust="spacing">0.8</text>
<text x="439.5" y="455.9" font-size="8.80" text-anchor="middle" font-weight="normal" fill="#111" textLength="14.6" lengthAdjust="spacing">1.0</text>
<text x="304.0" y="469.5" font-size="10.20" text-anchor="start" font-weight="normal" fill="#111" textLength="95.2" lengthAdjust="spacing">molar ratio of the</text>
<text x="297.5" y="480.0" font-size="10.20" text-anchor="start" font-weight="normal" fill="#111" textLength="103.8" lengthAdjust="spacing">reduced compound</text>
<text x="237.8" y="306.8" font-size="13.80" text-anchor="start" font-weight="bold" fill="#111" textLength="19.5" lengthAdjust="spacingAndGlyphs">(d)</text>
<text x="215.9" y="452.9" font-size="11.6" fill="#111" transform="rotate(-90 215.9 452.9)" textLength="125.5" lengthAdjust="spacing">current i<tspan font-size="9.5" dy="4">&#955;</tspan><tspan dy="-4"> at switching</tspan></text>
<text x="225.3" y="424.8" font-size="11.2" fill="#111" transform="rotate(-90 225.3 424.8)" textLength="68.5" lengthAdjust="spacing">potentials/A</text>
<text x="463.6" y="424.5" font-size="12.2" fill="#111" transform="rotate(-90 463.6 424.5)" textLength="55.5" lengthAdjust="spacing">parameter</text>
<text x="474.1" y="453.2" font-size="11" fill="#111" transform="rotate(-90 474.1 453.2)" textLength="109" lengthAdjust="spacing">&#439;=|i<tspan font-size="8" dy="3.5">&#955;,a</tspan><tspan dy="-3.5">|-|i</tspan><tspan font-size="8" dy="3.5">&#955;,c</tspan><tspan dy="-3.5">| / 10</tspan><tspan font-size="8" dy="-4.5">6</tspan></text>
<path d="M269.5,382.2 C272.9,381.5 282.8,379.4 290.0,378.0 C297.2,376.6 304.7,375.4 313.0,374.0 C321.3,372.6 328.8,371.5 340.0,369.5 C351.2,367.5 368.3,364.1 380.0,362.0 C391.7,359.9 399.8,358.7 410.0,357.0 C420.2,355.3 435.8,352.7 441.0,351.8" fill="none" stroke="#111" stroke-width="1.05" />
<path d="M269.5,440.2 C274.6,437.7 289.9,430.0 300.0,425.0 C310.1,420.0 320.0,415.2 330.0,410.0 C340.0,404.8 348.3,399.7 360.0,393.5 C371.7,387.3 386.5,379.7 400.0,373.0 C413.5,366.3 434.2,356.8 441.0,353.5" fill="none" stroke="#111" stroke-width="1.05" />
<path d="M269.5,440.2 C271.2,439.8 274.9,438.5 280.0,437.8 C285.1,437.1 293.3,436.5 300.0,435.8 C306.7,435.1 311.7,434.6 320.0,433.5 C328.3,432.4 340.0,430.5 350.0,429.0 C360.0,427.5 370.0,425.8 380.0,424.5 C390.0,423.2 399.8,422.0 410.0,421.0 C420.2,420.0 435.8,418.8 441.0,418.3" fill="none" stroke="#111" stroke-width="1.05" />
<line x1="269.6" y1="381.6" x2="275.4" y2="381.6" stroke="#111" stroke-width="1.00" />
<line x1="272.5" y1="378.7" x2="272.5" y2="384.5" stroke="#111" stroke-width="1.00" />
<line x1="310.4" y1="374.2" x2="316.2" y2="374.2" stroke="#111" stroke-width="1.00" />
<line x1="313.3" y1="371.3" x2="313.3" y2="377.1" stroke="#111" stroke-width="1.00" />
<line x1="323.6" y1="371.5" x2="329.4" y2="371.5" stroke="#111" stroke-width="1.00" />
<line x1="326.5" y1="368.6" x2="326.5" y2="374.4" stroke="#111" stroke-width="1.00" />
<line x1="352.5" y1="367.7" x2="358.3" y2="367.7" stroke="#111" stroke-width="1.00" />
<line x1="355.4" y1="364.8" x2="355.4" y2="370.6" stroke="#111" stroke-width="1.00" />
<line x1="378.1" y1="364.7" x2="383.9" y2="364.7" stroke="#111" stroke-width="1.00" />
<line x1="381.0" y1="361.8" x2="381.0" y2="367.6" stroke="#111" stroke-width="1.00" />
<line x1="393.7" y1="361.8" x2="399.5" y2="361.8" stroke="#111" stroke-width="1.00" />
<line x1="396.6" y1="358.9" x2="396.6" y2="364.7" stroke="#111" stroke-width="1.00" />
<line x1="435.4" y1="351.0" x2="441.2" y2="351.0" stroke="#111" stroke-width="1.00" />
<line x1="438.3" y1="348.1" x2="438.3" y2="353.9" stroke="#111" stroke-width="1.00" />
<rect x="317.9" y="413.9" width="3.4" height="3.4" fill="#111"/>
<rect x="329.0" y="404.7" width="3.4" height="3.4" fill="#111"/>
<rect x="353.7" y="394.1" width="3.4" height="3.4" fill="#111"/>
<rect x="376.8" y="385.4" width="3.4" height="3.4" fill="#111"/>
<rect x="389.2" y="378.4" width="3.4" height="3.4" fill="#111"/>
<rect x="425.1" y="358.6" width="3.4" height="3.4" fill="#111"/>
<circle cx="273.0" cy="440.3" r="1.9" fill="#111"/>
<circle cx="282.8" cy="434.2" r="1.9" fill="#111"/>
<polygon points="314.1,433.2 311.8,437.3 316.4,437.3" fill="#111"/>
<polygon points="327.0,428.9 324.7,433.0 329.3,433.0" fill="#111"/>
<polygon points="333.2,422.5 330.9,426.6 335.5,426.6" fill="#111"/>
<polygon points="355.4,425.7 353.1,429.8 357.7,429.8" fill="#111"/>
<polygon points="381.0,422.0 378.7,426.1 383.3,426.1" fill="#111"/>
<polygon points="396.6,420.7 394.3,424.8 398.9,424.8" fill="#111"/>
<polygon points="438.3,417.0 436.0,421.1 440.6,421.1" fill="#111"/>
<circle cx="439.3" cy="350" r="2.6" fill="none" stroke="#333" stroke-width="0.8"/>
<path d="M291.8,381.5 C290,387 283,389 275.5,388.6" fill="none" stroke="#111" stroke-width="1.00" />
<polygon points="271.3,388.8 276.0,387.3 275.8,390.8" fill="#111"/>
<path d="M329,434 C327,440 320,442 312.5,442" fill="none" stroke="#111" stroke-width="1.00" />
<polygon points="309.6,442.1 314.2,440.4 314.2,443.8" fill="#111"/>
<path d="M407,372.7 C415,376 425,374 435,368.5" fill="none" stroke="#111" stroke-width="1.00" />
<polygon points="438.0,366.8 434.8,370.6 433.1,367.5" fill="#111"/>
</svg>
</body></html>
